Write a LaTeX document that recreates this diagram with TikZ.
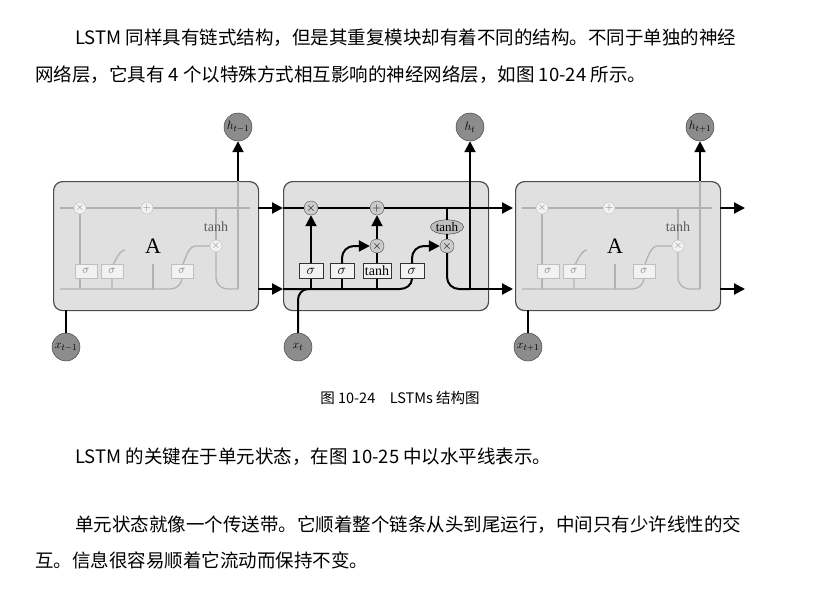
\documentclass[tikz,border=0pt]{standalone}
\usepackage{fontspec}
\setmainfont{Liberation Serif}
\newfontfamily\cjk{Noto Sans CJK SC}
\usetikzlibrary{arrows.meta,shapes.geometric}
\begin{document}
\begin{tikzpicture}[x=1pt,y=-1pt,
  cellbox/.style={draw=black!70,line width=1.2pt,fill=black!12,rounded corners=9pt},
  ln/.style={line width=2pt,black},
  arr/.style={ln,-{Triangle[length=11pt,width=11pt]}},
  gate/.style={circle,draw=black!70,fill=black!20,inner sep=0pt,minimum size=14pt,font=\fontsize{13}{13}\selectfont},
  layer/.style={draw=black!80,fill=black!5,inner sep=2pt,minimum height=15pt,minimum width=24pt,font=\fontsize{14}{14}\selectfont},
  io/.style={circle,draw=black!80,fill=black!45,minimum size=28pt,inner sep=0pt,font=\fontsize{13}{13}\selectfont},
  fade/.style={black!30,line width=1.3pt},
  fgate/.style={circle,fill=black!5,draw=black!25,inner sep=0pt,minimum size=12pt,font=\fontsize{11}{11}\selectfont,text=black!50},
  txt/.style={anchor=west,inner sep=0pt,font=\cjk\fontsize{18.5}{20}\selectfont}]
\useasboundingbox (0,0) rectangle (832,595);
\node[txt] (t1) at (75,38) {LSTM 同样具有链式结构，但是其重复模块却有着不同的结构。不同于单独的神经};
\node[txt] (t2) at (35,75) {网络层，它具有 4 个以特殊方式相互影响的神经网络层，如图 10-24 所示。};
\node[txt] (t3) at (75,457) {LSTM 的关键在于单元状态，在图 10-25 中以水平线表示。};
\node[txt] (t4) at (75,525) {单元状态就像一个传送带。它顺着整个链条从头到尾运行，中间只有少许线性的交};
\node[txt] (t5) at (35,560) {互。信息很容易顺着它流动而保持不变。};
\node[inner sep=0pt,font=\cjk\fontsize{14.5}{16}\selectfont] (cap) at (400,398) {图 10-24\quad LSTMs 结构图};
% boxes
\foreach \o/\n in {0/L,230/M,462/R}{
  \node[cellbox,minimum width=205pt,minimum height=129pt,anchor=north west] (box\n) at (53+\o,181) {};
}
% faded side cells
\foreach \o in {0,462}{
  \begin{scope}[xshift=\o]
  \draw[fade] (60,208) -- (250,208);
  \draw[fade] (60,289) -- (170,289) to[out=0,in=-90] (182,278);
  \draw[fade] (216,208) -- (216,240);
  \draw[fade] (216,252) -- (216,278) to[out=-90,in=180] (228,289) -- (238,289);
  \draw[fade] (238,181) -- (238,289);
  \draw[fade] (80,289) -- (80,214);
  \draw[fade] (112,289) -- (112,264) to[out=-90,in=180] (125,250);
  \draw[fade] (153,289) -- (153,264);
  \draw[fade] (182,264) to[out=-90,in=180] (195,246) -- (210,246);
  \node[fgate] at (80,208) {$\times$};
  \node[fgate] at (147,208) {$+$};
  \node[fgate] at (216,246) {$\times$};
  \node[font=\fontsize{14}{14}\selectfont,text=black!65] at (216,227) {tanh};
  \foreach \sx in {86,112,182}{\node[draw=black!25,fill=black!5,minimum width=22pt,minimum height=14pt,inner sep=0pt,text=black!50,font=\fontsize{13}{13}\selectfont] at (\sx,271) {$\sigma$};}
  \node[font=\fontsize{22}{22}\selectfont] at (153,246) {A};
  \end{scope}
}
\node[io] (hL) at (238,127) {$h_{t-1}$};
\node[io] (xL) at (66,347) {$x_{t-1}$};
\node[io] (hR) at (700,127) {$h_{t+1}$};
\node[io] (xR) at (528,347) {$x_{t+1}$};
\node[io] (hM) at (470,127) {$h_t$};
\node[io] (xM) at (298,347) {$x_t$};
\draw[arr] (238,181) -- (hL);
\draw[ln] (xL) -- (66,310);
\draw[arr] (700,181) -- (hR);
\draw[ln] (xR) -- (528,310);
% arrows between boxes
\draw[arr] (258,208) -- (283,208);
\draw[arr] (258,289) -- (283,289);
\draw[arr] (720,208) -- (745,208);
\draw[arr] (720,289) -- (745,289);
% middle cell
\node[gate] (f) at (311,208) {$\times$};
\node[gate] (p) at (377,208) {$+$};
\node[gate] (m1) at (377,246) {$\times$};
\node[gate] (m2) at (447,246) {$\times$};
\node[ellipse,draw=black!80,fill=black!25,inner sep=0.5pt,font=\fontsize{13}{13}\selectfont] (th) at (447,227) {tanh};
\node[layer] (s1) at (311,271) {$\sigma$};
\node[layer] (s2) at (342,271) {$\sigma$};
\node[layer] (s3) at (377,271) {tanh};
\node[layer] (s4) at (412,271) {$\sigma$};
\draw[ln] (283,208) -- (f) -- (p);
\draw[arr] (p) -- (513,208);
\draw[ln] (283,289) -- (400,289) to[out=0,in=-90] (s4.south);
\draw[ln] (xM) -- (298,300) to[out=90,in=180] (308,289);
\draw[ln] (311,289) -- (s1);
\draw[arr] (s1) -- (f);
\draw[ln] (342,289) -- (s2);
\draw[arr] (s2.north) -- (342,258) to[out=90,in=180] (354,246) -- (m1);
\draw[ln] (377,289) -- (s3);
\draw[ln] (s3) -- (m1);
\draw[arr] (m1) -- (p);
\draw[arr] (s4.north) -- (412,258) to[out=90,in=180] (424,246) -- (m2);
\draw[ln] (447,208) -- (th) -- (m2);
\draw[ln] (m2) -- (447,277) to[out=-90,in=180] (459,289) -- (470,289);
\draw[arr] (470,289) -- (513,289);
\draw[arr] (470,289) -- (hM);
\end{tikzpicture}
\end{document}
